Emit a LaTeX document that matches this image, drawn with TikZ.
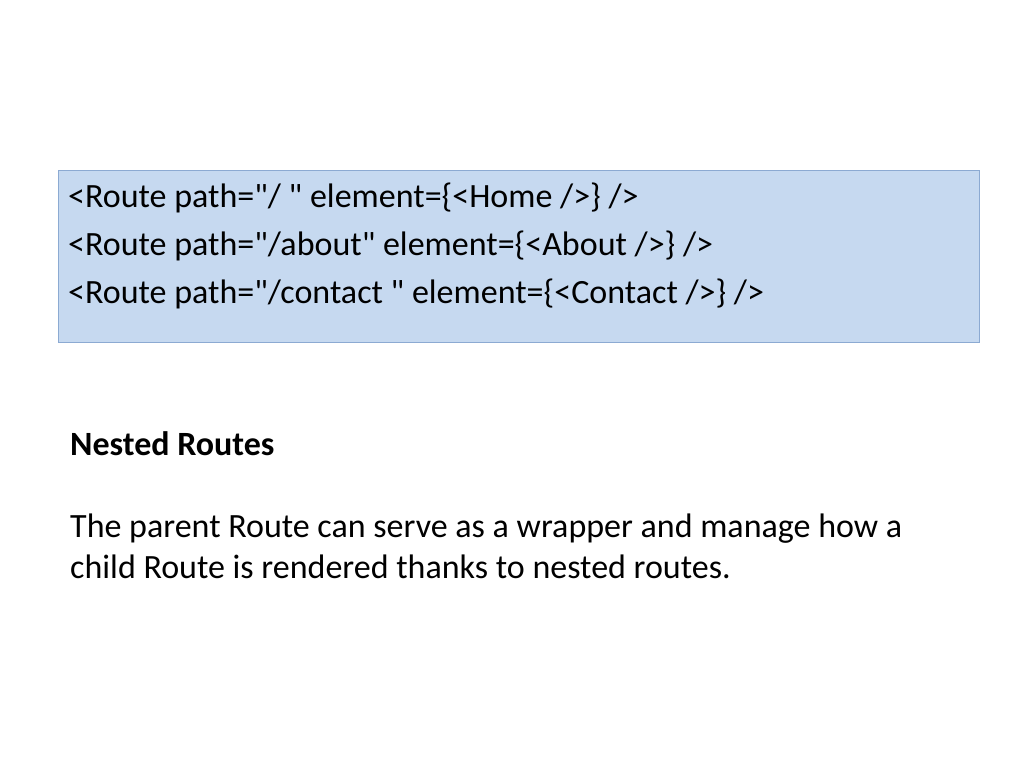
\documentclass[tikz,border=0pt]{standalone}
\usepackage{fontspec}
\setmainfont{Carlito}
\begin{document}
\begin{tikzpicture}[x=1pt,y=-1pt,
  txt/.style={anchor=base west,inner sep=0pt,font=\fontsize{34}{40}\selectfont}]
\def\q{\textquotedbl}
\useasboundingbox (0,0) rectangle (1024,768);
\fill[white] (0,0) rectangle (1024,768);
\node[draw={rgb,255:red,140;green,170;blue,210},fill={rgb,255:red,198;green,217;blue,240},line width=0.8pt,minimum width=921pt,minimum height=172pt,anchor=north west,inner sep=0pt] (box) at (58,170) {};
\node[txt] (l1) at (68,207) {<Route path=\q/ \q{} element=\{<Home />\} />};
\node[txt] (l2) at (68,255) {<Route path=\q/about\q{} element=\{<About />\} />};
\node[txt] (l3) at (68,303) {<Route path=\q/contact \q{} element=\{<Contact />\} />};
\node[txt,font=\fontsize{34}{40}\selectfont\bfseries] (h) at (70,455) {Nested Routes};
\node[txt] (p1) at (70,537) {The parent Route can serve as a wrapper and manage how a};
\node[txt] (p2) at (70,578) {child Route is rendered thanks to nested routes.};
\end{tikzpicture}
\end{document}
